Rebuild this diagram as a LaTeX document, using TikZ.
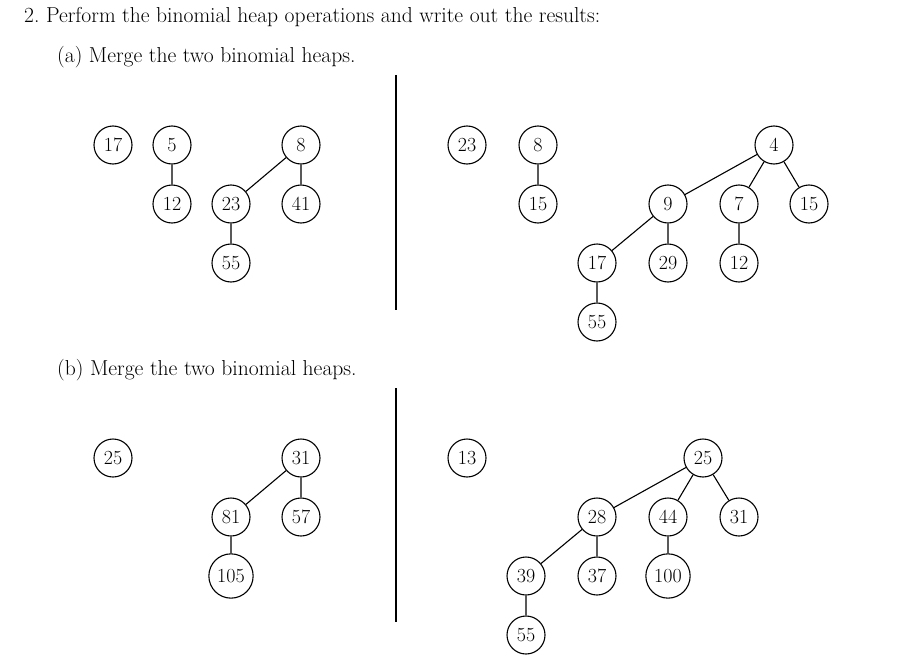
\documentclass[tikz,border=0pt]{standalone}
\begin{document}
\begin{tikzpicture}[x=1pt,y=-1pt,
  hn/.style={draw,circle,line width=1.1pt,minimum size=38pt,inner sep=5pt,font=\fontsize{20}{24}\selectfont},
  txt/.style={anchor=west,inner sep=0pt,font=\fontsize{21.6}{26}\selectfont},
  edge/.style={line width=1.1pt}]
\useasboundingbox (0,0) rectangle (921,661);
\node[txt] (t0) at (24,17) {2.\ Perform the binomial heap operations and write out the results:};
\node[txt] (ta) at (57,57) {(a) Merge the two binomial heaps.};
\node[txt] (tb) at (57,370) {(b) Merge the two binomial heaps.};
\coordinate (la1) at (396,75); \coordinate (la2) at (396,310);
\draw[edge] (la1) -- (la2);
\coordinate (lb1) at (396,388); \coordinate (lb2) at (396,622);
\draw[edge] (lb1) -- (lb2);
% (a) left
\node[hn] (a17) at (113,145) {17};
\node[hn] (a5) at (172,145) {5};
\node[hn] (a12) at (172,204) {12};
\node[hn] (a8) at (301,145) {8};
\node[hn] (a23) at (231,204) {23};
\node[hn] (a41) at (301,204) {41};
\node[hn] (a55) at (231,263) {55};
\draw[edge] (a5)--(a12) (a8)--(a23) (a8)--(a41) (a23)--(a55);
% (a) right
\node[hn] (b23) at (467,145) {23};
\node[hn] (b8) at (538,145) {8};
\node[hn] (b15) at (538,204) {15};
\node[hn] (b4) at (774,145) {4};
\node[hn] (b9) at (668,204) {9};
\node[hn] (b7) at (739,204) {7};
\node[hn] (b15b) at (809,204) {15};
\node[hn] (b17) at (597,263) {17};
\node[hn] (b29) at (668,263) {29};
\node[hn] (b12) at (739,263) {12};
\node[hn] (b55) at (597,322) {55};
\draw[edge] (b8)--(b15) (b4)--(b9) (b4)--(b7) (b4)--(b15b) (b9)--(b17) (b9)--(b29) (b7)--(b12) (b17)--(b55);
% (b) left
\node[hn] (c25) at (113,458) {25};
\node[hn] (c31) at (301,458) {31};
\node[hn] (c81) at (231,517) {81};
\node[hn] (c57) at (301,517) {57};
\node[hn] (c105) at (231,576) {105};
\draw[edge] (c31)--(c81) (c31)--(c57) (c81)--(c105);
% (b) right
\node[hn] (d13) at (467,458) {13};
\node[hn] (d25) at (703,458) {25};
\node[hn] (d28) at (597,517) {28};
\node[hn] (d44) at (668,517) {44};
\node[hn] (d31) at (739,517) {31};
\node[hn] (d39) at (526,576) {39};
\node[hn] (d37) at (597,576) {37};
\node[hn] (d100) at (668,576) {100};
\node[hn] (d55) at (526,635) {55};
\draw[edge] (d25)--(d28) (d25)--(d44) (d25)--(d31) (d28)--(d39) (d28)--(d37) (d44)--(d100) (d39)--(d55);
\end{tikzpicture}
\end{document}
